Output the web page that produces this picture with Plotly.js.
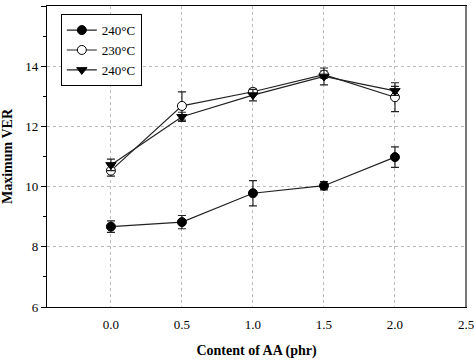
<!DOCTYPE html>
<html>
<head>
<meta charset="utf-8">
<script src="https://cdn.plot.ly/plotly-3.0.1.min.js"></script>
<style>html,body{margin:0;padding:0;background:#fff}#chart{width:474px;height:360px}</style>
</head>
<body>
<div id="chart"></div>
<script>
const contentAA = [0.0, 0.5, 1.0, 1.5, 2.0];
const seriesNames = ["240°C", "230°C", "240°C"];
const verA = [8.67, 8.82, 9.78, 10.03, 10.98];
const errA = [0.19, 0.22, 0.42, 0.14, 0.34];
const verB = [10.53, 12.68, 13.15, 13.72, 12.97];
const errB = [0.18, 0.47, 0.10, 0.12, 0.48];
const verC = [10.72, 12.32, 13.04, 13.66, 13.18];
const errC = [0.19, 0.15, 0.19, 0.28, 0.15];
const xTicks = [0.0, 0.5, 1.0, 1.5, 2.0, 2.5];
const xTickText = ["0.0", "0.5", "1.0", "1.5", "2.0", "2.5"];
const yTicks = [6, 8, 10, 12, 14, 16];

const font = "Liberation Serif, Times New Roman, serif";
function mk(y, e, name, symbol, fill) {
  return {
    x: contentAA, y: y, name: name, type: 'scatter', mode: 'lines+markers',
    line: {color: '#222', width: 1.2},
    marker: {symbol: symbol, size: 9, color: fill, line: {color: '#000', width: 1}},
    error_y: {type: 'data', array: e, visible: true, color: '#222', thickness: 1.2, width: 4}
  };
}
const data = [
  mk(verA, errA, seriesNames[0], 'circle', '#000'),
  mk(verB, errB, seriesNames[1], 'circle', '#fff'),
  mk(verC, errC, seriesNames[2], 'triangle-down', '#000')
];
const layout = {
  width: 474, height: 360,
  margin: {l: 47, r: 8, t: 6, b: 53},
  paper_bgcolor: '#fff', plot_bgcolor: '#fff',
  font: {family: font, color: '#000', size: 13},
  showlegend: true,
  legend: {x: 0.033, y: 0.973, xanchor: 'left', yanchor: 'top',
    bordercolor: '#000', borderwidth: 1, bgcolor: '#fff',
    font: {family: font, size: 13}, tracegroupgap: 0},
  xaxis: {
    range: [-0.45, 2.5], tickvals: xTicks, ticktext: xTickText,
    ticklabeloverflow: 'allow',
    showgrid: true, gridcolor: '#bbb', griddash: 'dot', gridwidth: 1,
    zeroline: false, showline: true, linecolor: '#000', linewidth: 1.2, mirror: true,
    ticks: 'outside', ticklen: 5, tickcolor: 'rgba(0,0,0,0)',
    tickfont: {family: font, size: 13},
    title: {text: '<b>Content of AA (phr)</b>', font: {family: font, size: 14}, standoff: 14}
  },
  yaxis: {
    range: [6, 16], tickvals: yTicks,
    showgrid: true, gridcolor: '#bbb', griddash: 'dot', gridwidth: 1,
    zeroline: false, showline: true, linecolor: '#000', linewidth: 1.2, mirror: true,
    ticks: 'outside', ticklen: 5, tickcolor: '#000',
    minor: {dtick: 1, ticks: 'outside', ticklen: 3, tickcolor: '#000', showgrid: false},
    tickfont: {family: font, size: 13},
    title: {text: '<b>Maximum VER</b>', font: {family: font, size: 14}, standoff: 12}
  },
  shapes: [{type: 'line', xref: 'paper', yref: 'paper', x0: 1, x1: 1, y0: 0, y1: 1,
    line: {color: '#777', width: 2}}]
};
Plotly.newPlot('chart', data, layout, {displayModeBar: false, staticPlot: true});
</script>
</body>
</html>
